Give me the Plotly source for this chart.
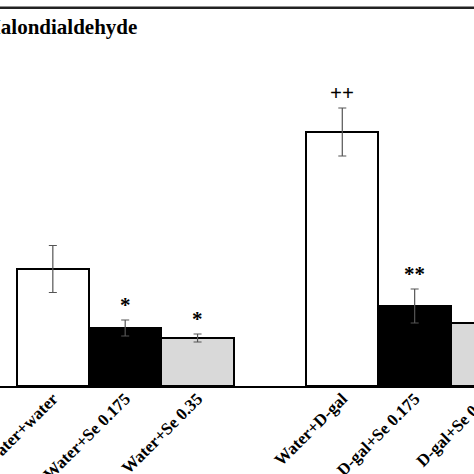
import plotly.graph_objects as go

# groups / bars
labels = ["Water+water", "Water+Se 0.175", "Water+Se 0.35",
          "Water+D-gal", "D-gal+Se 0.175", "D-gal+Se 0.35"]
positions = [0, 1, 2, 4, 5, 6]
mda = [1.17, 0.58, 0.48, 2.54, 0.80, 0.63]
sem = [0.235, 0.08, 0.04, 0.24, 0.17, 0.08]
marks = ["", "*", "*", "++", "**", ""]
fills = ["white", "black", "#d9d9d9", "white", "black", "#d9d9d9"]

fig = go.Figure()
fig.add_trace(go.Bar(
    x=positions,
    y=mda,
    width=1,
    marker=dict(color=fills, line=dict(color="black", width=2)),
    error_y=dict(type="data", array=sem, color="#555555", thickness=1.2, width=4),
    showlegend=False,
))

# significance marks above error bars
for xp, m, s, txt in zip(positions, mda, sem, marks):
    if txt:
        fig.add_annotation(
            x=xp, y=m + s, text=f"<b>{txt}</b>", showarrow=False,
            yanchor="bottom", yshift=1,
            font=dict(family="Liberation Serif", size=21, color="black"),
        )

# last tick sits past the right edge, so its label is drawn by hand
fig.add_annotation(
    xref="paper", yref="paper", x=455 / 474, y=-0.124,
    xanchor="center", yanchor="middle", showarrow=False, textangle=-45,
    text=f"<b>{labels[-1]}</b>",
    font=dict(family="Liberation Serif", size=17, color="black"),
)

# title (left part cropped in the source)
fig.add_annotation(
    xref="paper", yref="paper", x=139 / 474, y=1.038,
    xanchor="right", yanchor="middle", showarrow=False,
    text="<b>Malondialdehyde</b>",
    font=dict(family="Liberation Serif", size=21, color="black"),
)

# top rule line
fig.add_shape(type="line", xref="paper", yref="paper",
              x0=-0.01, x1=1.01, y0=1.093, y1=1.093,
              line=dict(color="#222222", width=2.5))

fig.update_layout(
    width=474, height=474,
    margin=dict(l=0, r=0, t=40, b=88, autoexpand=False),
    plot_bgcolor="white",
    paper_bgcolor="white",
    bargap=0,
    xaxis=dict(
        range=[-0.73, 5.82],
        tickvals=positions,
        ticktext=[f"<b>{t}</b>" for t in labels],
        tickangle=-45,
        ticks="",
        ticklabelstandoff=-6,
        automargin=False,
        ticklabeloverflow="allow",
        showline=True, linecolor="black", linewidth=2,
        showgrid=False, zeroline=False,
        tickfont=dict(family="Liberation Serif", size=17, color="black"),
    ),
    yaxis=dict(
        range=[0, 3.46],
        visible=False,
        showgrid=False,
    ),
)

fig.write_html("out.html", config={"displayModeBar": False},
               post_script="document.body.style.margin='0px';")
